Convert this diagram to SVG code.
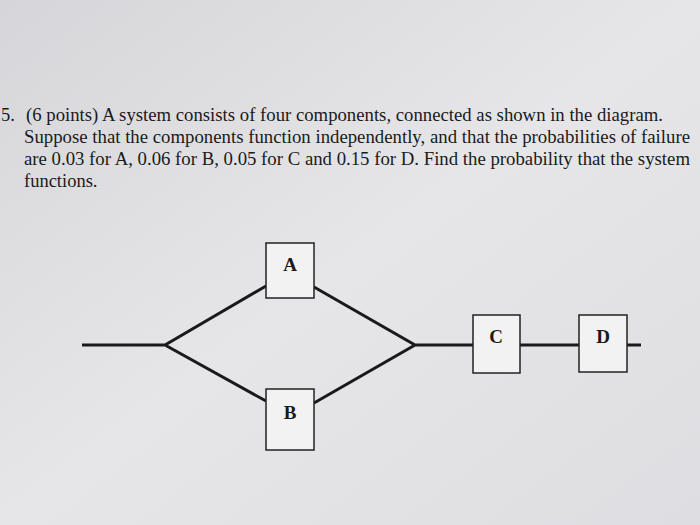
<svg xmlns="http://www.w3.org/2000/svg" width="700" height="525" viewBox="0 0 700 525">
<defs>
<linearGradient id="bg" x1="0" y1="0" x2="1" y2="1">
<stop offset="0" stop-color="#d6d6da"/><stop offset="0.5" stop-color="#e6e6e8"/><stop offset="1" stop-color="#dedee2"/>
</linearGradient>
<style>
.t{font-family:"Liberation Serif",serif;font-size:18.5px;fill:#1a1a1a}
.b{fill:#f2f2f2;stroke:#222;stroke-width:1.5}
.l{stroke:#1a1a1a;stroke-width:3;fill:none}
.lb{font-family:"Liberation Serif",serif;font-size:19px;font-weight:bold;fill:#1a1a1a;text-anchor:middle}
</style>
</defs>
<rect width="700" height="525" fill="url(#bg)"/>
<g id="text">
<text class="t" x="1" y="121">5.</text>
<text class="t" x="26" y="121" textLength="637" lengthAdjust="spacingAndGlyphs">(6 points) A system consists of four components, connected as shown in the diagram.</text>
<text class="t" x="24" y="143" textLength="666" lengthAdjust="spacingAndGlyphs">Suppose that the components function independently, and that the probabilities of failure</text>
<text class="t" x="24" y="165" textLength="666" lengthAdjust="spacingAndGlyphs">are 0.03 for A, 0.06 for B, 0.05 for C and 0.15 for D. Find the probability that the system</text>
<text class="t" x="24" y="187">functions.</text>
</g>
<g id="connectors">
<path class="l" d="M82 345H165L266 286M165 345L266 401M314 287L415 345L314 403M415 345H473M520 345H579M627 345H641"/>
</g>
<g id="A"><rect class="b" x="266" y="243" width="48" height="55"/><text class="lb" x="290" y="271">A</text></g>
<g id="B"><rect class="b" x="266" y="389" width="48" height="61"/><text class="lb" x="290" y="419">B</text></g>
<g id="C"><rect class="b" x="473" y="315" width="47" height="58"/><text class="lb" x="496" y="343">C</text></g>
<g id="D"><rect class="b" x="579" y="315" width="48" height="57"/><text class="lb" x="603" y="343">D</text></g>
</svg>
